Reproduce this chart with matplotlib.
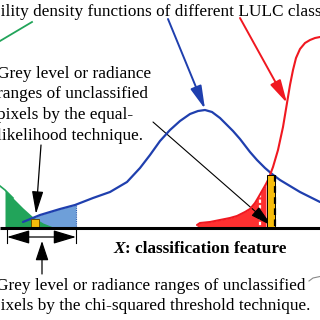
import matplotlib.pyplot as plt
from matplotlib.patches import Rectangle

# Кривые плотностей (координаты в пикселях, y вниз)
blue_x = [23, 40, 60, 75, 93, 110, 127, 140, 150, 160, 170, 180, 190, 198, 205,
          212, 220, 233, 240, 250, 257, 265, 272, 280, 290, 300, 310, 320]
blue_y = [222, 215, 209, 205, 198, 192, 182, 168, 155, 141, 130, 121, 114, 111, 110,
          112, 118, 131, 139, 152, 160, 168, 174, 180, 186, 192, 197, 202]

green_x = [0, 5, 13, 23, 33, 43, 53, 58]
green_y = [186, 190, 198, 208, 217, 223, 227, 228]

red_x = [197, 200, 210, 220, 230, 237, 245, 250, 255, 258, 262, 266, 268, 270,
         273, 278, 283, 287, 290, 293, 296, 300, 305, 310, 315, 320]
red_y = [225, 223, 222, 220, 218, 216, 212, 209, 203, 198, 191, 184, 180, 175,
         167, 150, 127, 103, 85, 70, 58, 49, 43, 40, 38, 37]

# Заливки (диапазоны по x)
blue_fill_x = [31, 40, 60, 76]
blue_fill_y = [219, 215, 209, 205]
red_fill_from = 197
red_fill_to = 266

BASE = 228

top_title = "Probability density functions of different LULC classes"
mid_lines = ["Grey level or radiance", "ranges of unclassified",
             "pixels by the equal-", "likelihood technique."]
bottom_lines = ["Grey level or radiance ranges of unclassified",
                "pixels by the chi-squared threshold technique."]
x_label = "classification feature"

BLUE = "#1f3fae"
RED = "#f01820"
GREEN = "#22a45a"
YELLOW = "#f7bd0c"
FONT = "Liberation Serif"
FS = 12.4


def arrow(ax, start, end, color="black", lw=0.9, hw=4, hl=8):
    ax.annotate("", xy=end, xytext=start,
                arrowprops=dict(arrowstyle=f"-|>,head_width={hw/10},head_length={hl/10}",
                                color=color, lw=lw, shrinkA=0, shrinkB=0,
                                mutation_scale=10))


def main():
    fig = plt.figure(figsize=(3.2, 3.2), dpi=100)
    ax = fig.add_axes([0, 0, 1, 1])
    ax.set_xlim(0, 320)
    ax.set_ylim(320, 0)
    ax.axis("off")

    # заливки
    ax.fill_between(blue_fill_x, blue_fill_y, BASE, color="#6e9fd9", lw=0, zorder=2)
    ax.plot([76, 76], [205, BASE], color="#2f5fb0", lw=0.8, ls=(0, (1, 1)), zorder=3)

    gx = [x for x in green_x if x >= 5]
    gy = [y for x, y in zip(green_x, green_y) if x >= 5]
    ax.fill_between(gx, gy, BASE, color=GREEN, lw=0, zorder=3)
    ax.plot(green_x[:3], green_y[:3], color=GREEN, lw=1.2, zorder=3)

    rx = [x for x in red_x if red_fill_from <= x <= red_fill_to]
    ry = [y for x, y in zip(red_x, red_y) if red_fill_from <= x <= red_fill_to]
    ax.fill_between(rx, ry, BASE, color="#ff3030", lw=0, zorder=2)
    ax.plot([260, 260], [194, BASE], color="white", lw=1.6, ls=(0, (1.5, 1)), zorder=3)

    # кривые
    ax.plot(blue_x, blue_y, color=BLUE, lw=1.6, zorder=4, solid_capstyle="round")
    ax.plot(red_x, red_y, color=RED, lw=1.5, zorder=4, solid_capstyle="round")

    # жёлтые столбики
    ax.add_patch(Rectangle((31, 219), 8, BASE - 219, fc=YELLOW, ec="#6b5000",
                           lw=0.7, zorder=5))
    ax.add_patch(Rectangle((267, 175), 8, BASE - 175, fc=YELLOW, ec="black",
                           lw=0.7, zorder=5))
    ax.plot([275, 275], [175, BASE], color="black", lw=1.6, ls=(0, (3, 2)), zorder=6)

    # ось X
    ax.plot([0, 320], [BASE, BASE], color="black", lw=2.2, zorder=6,
            solid_capstyle="butt")

    # двусторонняя стрелка под осью
    ax.plot([7, 7], [BASE, 243], color="black", lw=0.8)
    ax.plot([76, 76], [BASE, 243], color="black", lw=0.8)
    ax.annotate("", xy=(7, 237), xytext=(76, 237),
                arrowprops=dict(arrowstyle="<|-|>,head_width=0.42,head_length=1.4",
                                color="black", lw=0.9, shrinkA=0, shrinkB=0,
                                mutation_scale=10))
    arrow(ax, (42, 274), (42, 241), hw=4, hl=12)

    # стрелки-подписи
    arrow(ax, (41, 145), (36, 214), hw=3.5, hl=14)
    arrow(ax, (153, 122), (272, 226), lw=0.8, hw=3.5, hl=14)
    arrow(ax, (168, 19), (205, 109), color=BLUE, lw=1.4, hw=3.5, hl=14)
    arrow(ax, (240, 18), (287, 103), color=RED, lw=1.4, hw=3.5, hl=14)
    ax.plot([0, 32], [41, 22], color=GREEN, lw=1.3)
    ax.plot([309, 313, 320], [281, 278, 276.5], color="#888888", lw=0.8)

    # тексты
    ax.text(-48, 15.5, top_title, fontsize=FS, family=FONT, va="baseline",
            ha="left", clip_on=False)
    for i, line in enumerate(mid_lines):
        ax.text(-3, 78 + 20.5 * i, line, fontsize=FS, family=FONT,
                va="baseline", ha="left")
    for i, line in enumerate(bottom_lines):
        ax.text(151, 290 + 20 * i, line, fontsize=FS, family=FONT,
                va="baseline", ha="center")
    ax.text(113, 253, "X", fontsize=FS, family=FONT, weight="bold",
            style="italic", va="baseline", ha="left")
    ax.text(125, 253, ": " + x_label, fontsize=FS, family=FONT, weight="bold",
            va="baseline", ha="left")

    fig.savefig("out.png", dpi=100)
    plt.close(fig)


if __name__ == "__main__":
    main()
